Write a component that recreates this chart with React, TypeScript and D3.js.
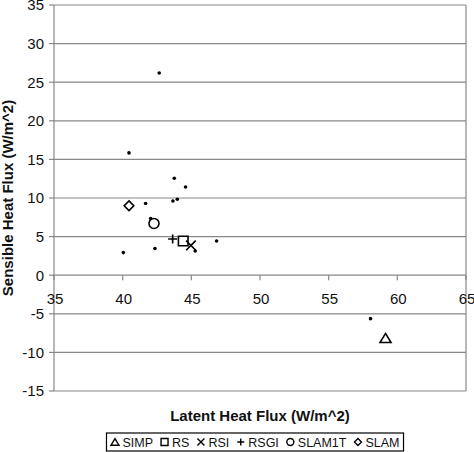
import React, { useEffect, useRef } from "react";
import * as d3 from "d3";

const xTicks = [35, 40, 45, 50, 55, 60, 65];
const yTicks = [-15, -10, -5, 0, 5, 10, 15, 20, 25, 30, 35];

// unlabelled small dots
const dotX = [42.66, 40.46, 43.76, 44.58, 41.67, 43.66, 43.98, 40.05, 42.35, 46.84, 45.28, 42.04, 58.05];
const dotY = [26.2, 15.84, 12.56, 11.43, 9.28, 9.62, 9.84, 2.93, 3.45, 4.43, 3.14, 7.34, -5.63];

// named model series
const seriesNames = ["SIMP", "RS", "RSI", "RSGI", "SLAM1T", "SLAM"];
const seriesShapes = ["triangle", "square", "x", "plus", "circle", "diamond"];
const seriesX = [59.14, 44.41, 44.97, 43.64, 42.28, 40.46];
const seriesY = [-8.15, 4.43, 3.85, 4.69, 6.7, 9.0];

const W = 474;
const H = 452;
const M = { left: 54, right: 466, top: 5, bottom: 391 };

function markerPath(kind: string, s: number): string {
  switch (kind) {
    case "triangle":
      return `M0,${-s * 0.85}L${s},${s * 0.8}L${-s},${s * 0.8}Z`;
    case "square":
      return `M${-s},${-s}H${s}V${s}H${-s}Z`;
    case "x":
      return `M${-s},${-s}L${s},${s}M${-s},${s}L${s},${-s}`;
    case "plus":
      return `M${-s},0H${s}M0,${-s}V${s}`;
    case "circle":
      return `M${s},0A${s},${s} 0 1,1 ${-s},0A${s},${s} 0 1,1 ${s},0Z`;
    case "diamond":
      return `M0,${-s}L${s},0L0,${s}L${-s},0Z`;
  }
  return "";
}

export default function App() {
  const ref = useRef<SVGSVGElement | null>(null);

  useEffect(() => {
    const svg = d3.select(ref.current);
    svg.selectAll("*").remove();
    const font = "Arial, 'Liberation Sans', sans-serif";

    const x = d3.scaleLinear().domain([35, 65]).range([M.left, M.right]);
    const y = d3.scaleLinear().domain([-15, 35]).range([M.bottom, M.top]);

    // gridlines
    svg
      .append("g")
      .selectAll("line")
      .data(yTicks)
      .join("line")
      .attr("x1", M.left)
      .attr("x2", M.right)
      .attr("y1", (d) => y(d))
      .attr("y2", (d) => y(d))
      .attr("stroke", "#888")
      .attr("stroke-width", 1.2);

    // plot border right/bottom
    svg
      .append("line")
      .attr("x1", M.right)
      .attr("x2", M.right)
      .attr("y1", M.top)
      .attr("y2", M.bottom)
      .attr("stroke", "#888")
      .attr("stroke-width", 1.2);

    // y axis
    const yAxis = svg.append("g");
    yAxis
      .append("line")
      .attr("x1", M.left)
      .attr("x2", M.left)
      .attr("y1", M.top)
      .attr("y2", M.bottom)
      .attr("stroke", "#888")
      .attr("stroke-width", 1.2);
    yAxis
      .selectAll("line.tick")
      .data(yTicks)
      .join("line")
      .attr("class", "tick")
      .attr("x1", M.left - 5)
      .attr("x2", M.left)
      .attr("y1", (d) => y(d))
      .attr("y2", (d) => y(d))
      .attr("stroke", "#888")
      .attr("stroke-width", 1.2);
    yAxis
      .selectAll("text")
      .data(yTicks)
      .join("text")
      .attr("x", M.left - 10)
      .attr("y", (d) => y(d))
      .attr("dy", "0.36em")
      .attr("text-anchor", "end")
      .attr("font-family", font)
      .attr("font-size", 15)
      .attr("fill", "#111")
      .text((d) => String(d));

    // x axis at y = 0
    const xAxis = svg.append("g");
    xAxis
      .selectAll("line")
      .data(xTicks)
      .join("line")
      .attr("x1", (d) => x(d))
      .attr("x2", (d) => x(d))
      .attr("y1", y(0))
      .attr("y2", y(0) + 5)
      .attr("stroke", "#888")
      .attr("stroke-width", 1.2);
    xAxis
      .selectAll("text")
      .data(xTicks)
      .join("text")
      .attr("x", (d) => x(d) + 1)
      .attr("y", y(0) + 23)
      .attr("dy", "0.36em")
      .attr("text-anchor", "middle")
      .attr("font-family", font)
      .attr("font-size", 15)
      .attr("fill", "#111")
      .text((d) => String(d));

    // axis titles
    svg
      .append("text")
      .attr("transform", `translate(13,${(M.top + M.bottom) / 2}) rotate(-90)`)
      .attr("text-anchor", "middle")
      .attr("font-family", font)
      .attr("font-size", 15)
      .attr("font-weight", "bold")
      .attr("fill", "#111")
      .text("Sensible Heat Flux (W/m^2)");
    svg
      .append("text")
      .attr("x", (M.left + M.right) / 2)
      .attr("y", 421)
      .attr("text-anchor", "middle")
      .attr("font-family", font)
      .attr("font-size", 15)
      .attr("font-weight", "bold")
      .attr("fill", "#111")
      .text("Latent Heat Flux (W/m^2)");

    // dots
    svg
      .append("g")
      .selectAll("circle")
      .data(dotX.map((v, i) => [v, dotY[i]]))
      .join("circle")
      .attr("cx", (d) => x(d[0]))
      .attr("cy", (d) => y(d[1]))
      .attr("r", 1.8)
      .attr("fill", "#000");

    // series markers
    svg
      .append("g")
      .selectAll("path")
      .data(seriesNames.map((n, i) => ({ n, k: seriesShapes[i], x: seriesX[i], y: seriesY[i] })))
      .join("path")
      .attr("transform", (d) => `translate(${x(d.x)},${y(d.y)})`)
      .attr("d", (d) => markerPath(d.k, d.k === "plus" ? 4.5 : d.k === "circle" ? 5 : d.k === "triangle" ? 5.5 : 4.8))
      .attr("fill", "#fff")
      .attr("fill-opacity", (d) => (d.k === "x" || d.k === "plus" ? 0 : 1))
      .attr("stroke", "#000")
      .attr("stroke-width", 1.6);

    // legend
    const lg = svg.append("g");
    const box = lg
      .append("rect")
      .attr("y", 433)
      .attr("height", 18)
      .attr("fill", "#fff")
      .attr("stroke", "#000")
      .attr("stroke-width", 1.2);
    let cx = 0;
    const items: { k: string; mx: number; tx: number }[] = [];
    const texts = lg
      .selectAll("text")
      .data(seriesNames)
      .join("text")
      .attr("y", 442)
      .attr("dy", "0.36em")
      .attr("font-family", font)
      .attr("font-size", 12.5)
      .attr("fill", "#111")
      .text((d) => d);
    const widths: number[] = [];
    texts.each(function () {
      widths.push((this as SVGTextElement).getComputedTextLength());
    });
    const mW = 9;
    const gapM = 3;
    const gapI = 7;
    seriesNames.forEach((_, i) => {
      items.push({ k: seriesShapes[i], mx: cx + mW / 2, tx: cx + mW + gapM });
      cx += mW + gapM + widths[i] + (i < seriesNames.length - 1 ? gapI : 0);
    });
    const total = cx;
    const startX = 255 - total / 2;
    box.attr("x", startX - 4).attr("width", total + 8);
    texts.attr("x", (_, i) => startX + items[i].tx);
    lg.selectAll("path")
      .data(items)
      .join("path")
      .attr("transform", (d) => `translate(${startX + d.mx},442)`)
      .attr("d", (d) => markerPath(d.k, d.k === "triangle" ? 4 : 3.5))
      .attr("fill", "none")
      .attr("stroke", "#000")
      .attr("stroke-width", 1.4);
  }, []);

  return (
    <svg
      ref={ref}
      width={W}
      height={H}
      style={{ position: "absolute", left: 0, top: 0, background: "#fff" }}
    />
  );
}
